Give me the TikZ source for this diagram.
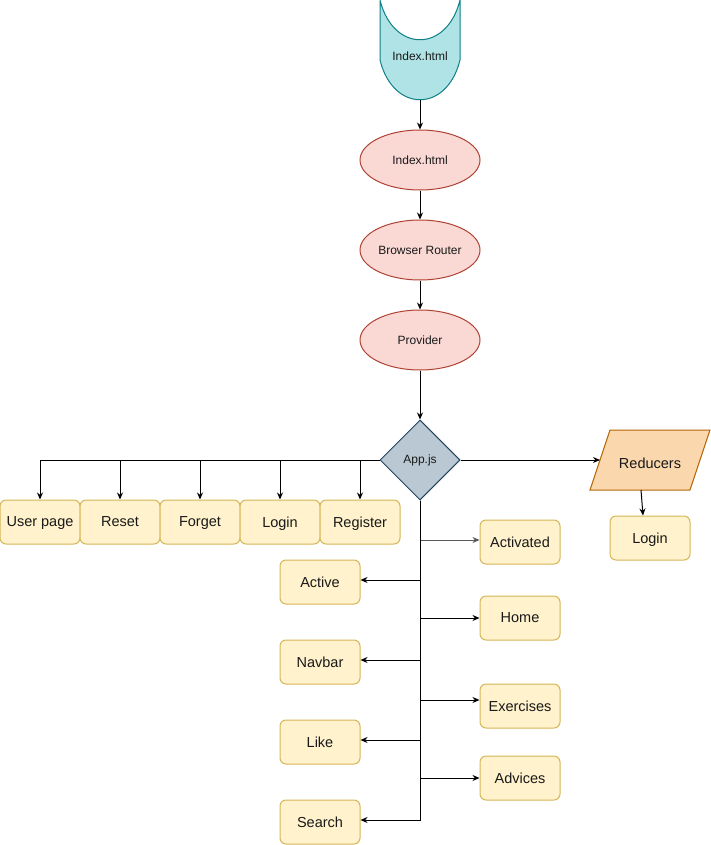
\documentclass[tikz,border=0pt]{standalone}
\usepackage{fontspec}
\setmainfont{Liberation Sans}
\usetikzlibrary{shapes.geometric,arrows.meta}

\definecolor{tapefill}{HTML}{B0E3E6}
\definecolor{tapeline}{HTML}{0E8088}
\definecolor{ovalfill}{HTML}{FAD9D5}
\definecolor{ovalline}{HTML}{AE4132}
\definecolor{appfill}{HTML}{BAC8D3}
\definecolor{appline}{HTML}{23445D}
\definecolor{redfill}{HTML}{FAD7AC}
\definecolor{redline}{HTML}{B46504}
\definecolor{boxfill}{HTML}{FFF2CC}
\definecolor{boxline}{HTML}{D6B656}

\begin{document}
\begin{tikzpicture}[x=1pt,y=-1pt]
        \tikzstyle{every node}=[inner sep=0pt, font=\fontsize{14.5}{16}\selectfont, text=black!90]
        \tikzstyle{small}=[font=\fontsize{12}{14}\selectfont]
        \tikzstyle{box}=[rectangle, rounded corners=6pt, fill=boxfill, draw=boxline, line width=1pt, minimum width=80pt, minimum height=44pt, text depth=-1.5pt]
        \tikzstyle{oval}=[ellipse, small, fill=ovalfill, draw=ovalline, line width=1pt, minimum width=120pt, minimum height=60pt]
        \tikzstyle{edge}=[black, line width=1pt, -{Stealth[length=7pt,width=6pt]}]

        \useasboundingbox (0,0) rectangle (711,845);

        % top shape
        \draw[fill=tapefill, draw=tapeline, line width=1pt] (380,0) .. controls (393,53) and (447,53) .. (460,0)
            -- (460,60) .. controls (447,113) and (393,113) .. (380,60) -- cycle;
        \node[small] (top) at (420,56) {Index.html};
        \coordinate (topend) at (420,100);

        \node[oval] (index)    at (420,160) {Index.html};
        \node[oval] (router)   at (420,250) {Browser Router};
        \node[oval] (provider) at (420,340) {Provider};

        \node[diamond, small, fill=appfill, draw=appline, line width=1pt, minimum width=80pt, minimum height=80pt] (app) at (420,460) {App.js};

        % reducers
        \draw[fill=redfill, draw=redline, line width=1pt] (610,430) -- (710,430) -- (690,490) -- (590,490) -- cycle;
        \node (reducers) at (650,463) {Reducers};
        \coordinate (redin)  at (600,460);
        \coordinate (redout) at (641,490);
        \node[box] (rlogin) at (650,538) {Login};

        \node[box] (userpage) at (40,522)  {User page};
        \node[box] (reset)    at (120,522) {Reset};
        \node[box] (forget)   at (200,522) {Forget};
        \node[box] (login)    at (280,522) {Login};
        \node[box] (register) at (360,522) {Register};

        \node[box] (activated) at (520,542) {Activated};
        \node[box] (active)    at (320,582) {Active};
        \node[box] (home)      at (520,618) {Home};
        \node[box] (navbar)    at (320,662) {Navbar};
        \node[box] (exercises) at (520,706) {Exercises};
        \node[box] (like)      at (320,742) {Like};
        \node[box] (advices)   at (520,778) {Advices};
        \node[box] (search)    at (320,822) {Search};

        \draw[edge] (topend) -- (index);
        \draw[edge] (index) -- (router);
        \draw[edge] (router) -- (provider);
        \draw[edge] (provider) -- (app);
        \draw[edge] (app) -- (redin);
        \draw[edge] (redout) -- ([xshift=-7pt]rlogin.north);

        \foreach \n in {userpage,reset,forget,login,register}
            \draw[edge] (app.west) -| (\n.north);

        \draw[edge, black!65] (app.south) |- ([yshift=2pt]activated.west);
        \draw[edge] (app.south) |- ([yshift=6pt]exercises.west);
        \foreach \n in {home,advices}
            \draw[edge] (app.south) |- (\n.west);
        \foreach \n in {active,navbar,like,search}
            \draw[edge] (app.south) |- ([yshift=2pt]\n.east);
    \end{tikzpicture}
\end{document}
